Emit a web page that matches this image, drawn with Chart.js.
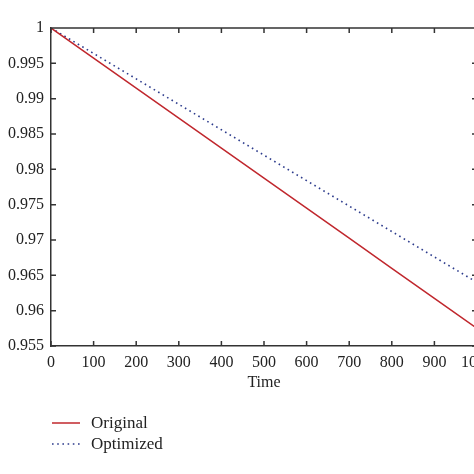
<!DOCTYPE html>
<html>
<head>
<meta charset="utf-8">
<script src="https://cdn.jsdelivr.net/npm/chart.js@4"></script>
<style>
  html, body { margin:0; padding:0; background:#fff; overflow:hidden; }
  #wrap { position:absolute; left:0; top:0; width:500px; height:474px; }
</style>
</head>
<body>
<div id="wrap"><canvas id="chart" width="500" height="474"></canvas></div>
<script>
// values
const timePoints = [0, 100, 200, 300, 400, 500, 600, 700, 800, 900, 1000];
const originalVals = [1, 0.99575, 0.9915, 0.98725, 0.983, 0.97875, 0.9745, 0.97025, 0.966, 0.96175, 0.9575];
const optimizedVals = [1, 0.9964, 0.9928, 0.9892, 0.9856, 0.982, 0.9784, 0.9748, 0.9712, 0.9676, 0.964];
const xTicks = [0, 100, 200, 300, 400, 500, 600, 700, 800, 900, 1000];
const yTicks = [0.955, 0.96, 0.965, 0.97, 0.975, 0.98, 0.985, 0.99, 0.995, 1];
const seriesNames = ['Original', 'Optimized'];

const AXIS = '#333';
const FONT = "'Liberation Serif', 'DejaVu Serif', serif";

// box round the plot with inward ticks on all four sides
const framePlugin = {
  id: 'frame',
  afterDraw(chart) {
    const {ctx, chartArea: a, scales} = chart;
    ctx.save();
    ctx.strokeStyle = AXIS;
    ctx.lineWidth = 1.5;
    ctx.beginPath();
    ctx.moveTo(a.left, a.top); ctx.lineTo(a.right, a.top);
    ctx.moveTo(a.right, a.top); ctx.lineTo(a.right, a.bottom);
    const len = 5;
    scales.x.ticks.forEach(t => {
      const px = scales.x.getPixelForValue(t.value);
      ctx.moveTo(px, a.bottom); ctx.lineTo(px, a.bottom - len);
      ctx.moveTo(px, a.top); ctx.lineTo(px, a.top + len);
    });
    scales.y.ticks.forEach(t => {
      const py = scales.y.getPixelForValue(t.value);
      ctx.moveTo(a.left, py); ctx.lineTo(a.left + len, py);
      ctx.moveTo(a.right, py); ctx.lineTo(a.right - len, py);
    });
    ctx.stroke();
    ctx.restore();
  }
};

// stacked legend under the axis title
const legendPlugin = {
  id: 'stackLegend',
  afterDraw(chart) {
    const {ctx, chartArea: a} = chart;
    ctx.save();
    ctx.font = '17px ' + FONT;
    ctx.textBaseline = 'middle';
    chart.data.datasets.forEach((ds, i) => {
      const y = 423 + i * 21;
      const x0 = a.left + 1;
      ctx.strokeStyle = ds.borderColor;
      ctx.lineWidth = ds.borderWidth;
      ctx.setLineDash(ds.borderDash || []);
      ctx.beginPath();
      ctx.moveTo(x0, y); ctx.lineTo(x0 + 28, y);
      ctx.stroke();
      ctx.setLineDash([]);
      ctx.fillStyle = '#222';
      ctx.fillText(ds.label, x0 + 39, y + 1);
    });
    ctx.restore();
  }
};

new Chart(document.getElementById('chart'), {
  type: 'line',
  data: {
    datasets: [
      {
        label: seriesNames[0],
        data: timePoints.map((t, i) => ({x: t, y: originalVals[i]})),
        borderColor: '#c0272d',
        borderWidth: 1.5,
        pointRadius: 0,
        tension: 0
      },
      {
        label: seriesNames[1],
        data: timePoints.map((t, i) => ({x: t, y: optimizedVals[i]})),
        borderColor: '#2c3b8c',
        borderWidth: 1.6,
        borderDash: [1.6, 3.6],
        pointRadius: 0,
        tension: 0
      }
    ]
  },
  options: {
    responsive: false,
    animation: false,
    layout: { padding: { top: 28, right: 23, bottom: 80, left: 0 } },
    plugins: { legend: { display: false }, tooltip: { enabled: false } },
    scales: {
      x: {
        type: 'linear',
        min: 0, max: 1000,
        afterBuildTicks: s => { s.ticks = xTicks.map(v => ({value: v})); },
        afterFit: s => { s.height = 48; },
        grid: { display: false, drawTicks: false },
        border: { color: AXIS, width: 1.5 },
        ticks: { color: '#222', padding: 7, maxRotation: 0, font: { family: FONT, size: 16 }, callback: v => String(v) },
        title: { display: true, text: 'Time', color: '#222', padding: { top: 0, bottom: 2 }, font: { family: FONT, size: 16 } }
      },
      y: {
        type: 'linear',
        min: 0.955, max: 1,
        afterBuildTicks: s => { s.ticks = yTicks.map(v => ({value: v})); },
        afterFit: s => { s.width = 51; },
        grid: { display: false, drawTicks: false },
        border: { color: AXIS, width: 1.5 },
        ticks: { color: '#222', padding: 7, font: { family: FONT, size: 16 }, callback: v => String(+v.toFixed(3)) }
      }
    }
  },
  plugins: [framePlugin, legendPlugin]
});
</script>
</body>
</html>
